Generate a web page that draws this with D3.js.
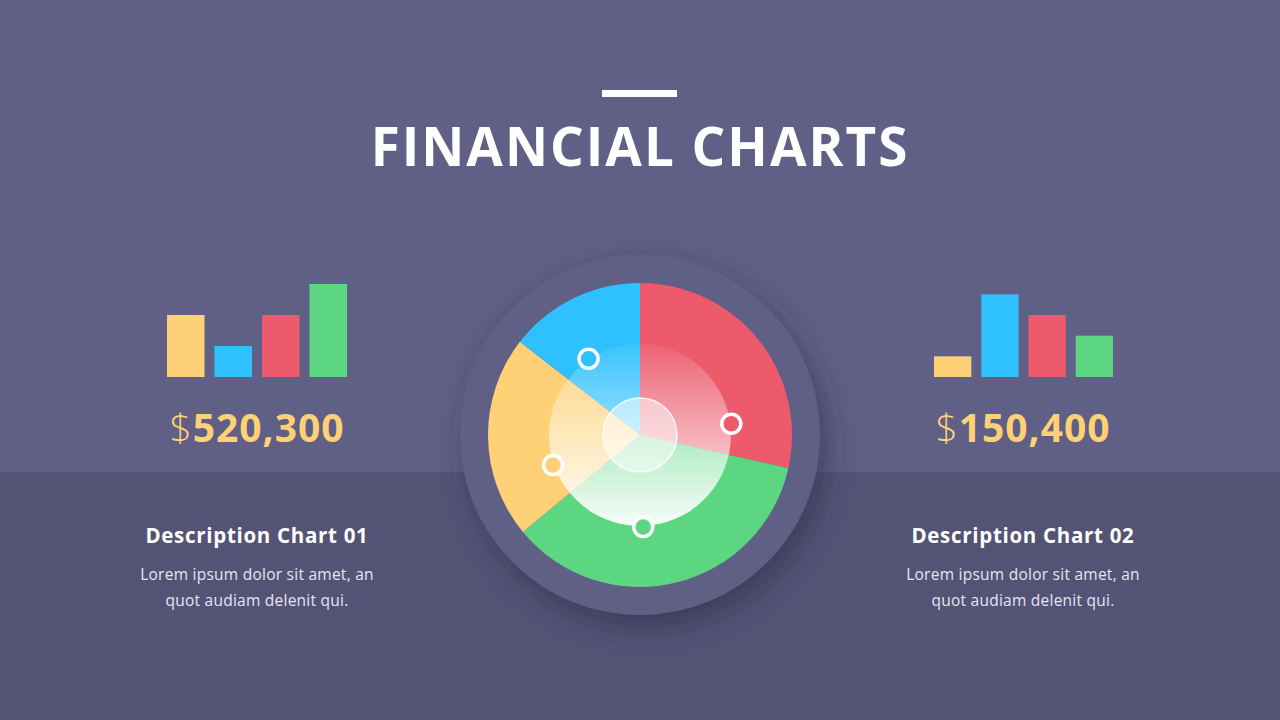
<!DOCTYPE html>
<html><head><meta charset="utf-8">
<script src="https://cdn.jsdelivr.net/npm/d3@7/dist/d3.min.js"></script>
<style>html,body{margin:0;padding:0;background:#605f86;}svg{display:block;}</style>
</head><body>
<svg id="c" width="1280" height="720"></svg>
<script>
// ---- data ----
const barCategories = ["A", "B", "C", "D"];
const barColors = ["#ffd177", "#2ec0ff", "#ec5a6c", "#5cd680"];
const chart1Values = [6, 3, 6, 9];
const chart2Values = [2, 8, 6, 4];
const chart1Total = "520,300";
const chart2Total = "150,400";
const pieLabels = ["Red", "Green", "Yellow", "Blue"];
const pieValues = [28.5, 35.5, 21.5, 14.5];
const pieColors = ["#ec5a6c", "#5cd680", "#ffd177", "#2ec0ff"];
const markerAngles = [83, 178, 251, 326]; // degrees, clockwise from top
const title = "FINANCIAL CHARTS";
const descTitles = ["Description Chart 01", "Description Chart 02"];
const descLines = ["Lorem ipsum dolor sit amet, an", "quot audiam delenit qui."];

const svg = d3.select("#c");
const W = 1280, H = 720;
const FONT = "'Open Sans', 'DejaVu Sans', sans-serif";

// background
svg.append("rect").attr("width", W).attr("height", 472).attr("fill", "#605f86");
svg.append("rect").attr("y", 472).attr("width", W).attr("height", H - 472).attr("fill", "#545376");

// defs
const defs = svg.append("defs");
const f = defs.append("filter").attr("id", "shadow").attr("x", "-30%").attr("y", "-30%").attr("width", "160%").attr("height", "160%");
f.append("feDropShadow").attr("dx", 7).attr("dy", 13).attr("stdDeviation", 14)
  .attr("flood-color", "#2c2b48").attr("flood-opacity", 0.6);
const g1 = defs.append("linearGradient").attr("id", "glow").attr("x1", 0).attr("y1", 0).attr("x2", 0).attr("y2", 1);
g1.append("stop").attr("offset", "0%").attr("stop-color", "#fff").attr("stop-opacity", 0.06);
g1.append("stop").attr("offset", "55%").attr("stop-color", "#fff").attr("stop-opacity", 0.55);
g1.append("stop").attr("offset", "100%").attr("stop-color", "#fff").attr("stop-opacity", 0.95);

// title
svg.append("rect").attr("x", 602).attr("y", 90).attr("width", 75).attr("height", 7).attr("fill", "#fff");
svg.append("text").attr("x", 640).attr("y", 166).attr("text-anchor", "middle")
  .attr("font-family", FONT).attr("font-weight", 700).attr("font-size", 53)
  .attr("letter-spacing", 2).attr("fill", "#fff").text(title);

// bar charts
const y = d3.scaleLinear().domain([0, 9]).range([377, 284]);
function barChart(values, x0, x1, total, cx, desc) {
  const x = d3.scaleBand().domain(barCategories).range([x0, x1]).paddingInner(0.21).paddingOuter(0);
  const g = svg.append("g");
  g.selectAll("rect").data(values).join("rect")
    .attr("x", (d, i) => x(barCategories[i]))
    .attr("y", d => y(d))
    .attr("width", x.bandwidth())
    .attr("height", d => y(0) - y(d))
    .attr("fill", (d, i) => barColors[i]);
  const t = g.append("text").attr("x", cx).attr("y", 442).attr("text-anchor", "middle")
    .attr("font-family", FONT).attr("font-size", 39).attr("fill", "#ffd177").attr("letter-spacing", 1);
  t.append("tspan").attr("font-weight", 300).text("$");
  t.append("tspan").attr("font-weight", 700).text(total);
  g.append("text").attr("x", cx).attr("y", 543).attr("text-anchor", "middle")
    .attr("font-family", FONT).attr("font-weight", 700).attr("font-size", 20.5).attr("letter-spacing", 0.7)
    .attr("fill", "#fff").text(desc);
  descLines.forEach((l, i) => {
    g.append("text").attr("x", cx).attr("y", 580 + i * 26).attr("text-anchor", "middle")
      .attr("font-family", FONT).attr("font-weight", 400).attr("font-size", 15.5).attr("letter-spacing", 0.25)
      .attr("fill", "#e6e5f0").text(l);
  });
}
barChart(chart1Values, 167, 347, chart1Total, 257, descTitles[0]);
barChart(chart2Values, 934, 1113, chart2Total, 1023, descTitles[1]);

// pie
const cx = 640, cy = 435;
const pg = svg.append("g").attr("transform", `translate(${cx},${cy})`);
pg.append("circle").attr("r", 180).attr("fill", "#605f86").attr("filter", "url(#shadow)");
const pie = d3.pie().sort(null).value(d => d)(pieValues);
const arc = d3.arc().innerRadius(0).outerRadius(152);
pg.selectAll("path.slice").data(pie).join("path").attr("class", "slice")
  .attr("d", arc).attr("fill", (d, i) => pieColors[i]);
pg.append("circle").attr("r", 91).attr("fill", "url(#glow)");
pg.append("circle").attr("r", 37).attr("fill", "#fff").attr("fill-opacity", 0.5)
  .attr("stroke", "#fff").attr("stroke-opacity", 0.85).attr("stroke-width", 1.5);
const rm = 92;
pg.selectAll("circle.marker").data(markerAngles).join("circle").attr("class", "marker")
  .attr("cx", d => rm * Math.sin(d * Math.PI / 180))
  .attr("cy", d => -rm * Math.cos(d * Math.PI / 180))
  .attr("r", 9.5)
  .attr("fill", (d, i) => pieColors[i])
  .attr("stroke", "#fff").attr("stroke-width", 3.5);
</script>
</body></html>
